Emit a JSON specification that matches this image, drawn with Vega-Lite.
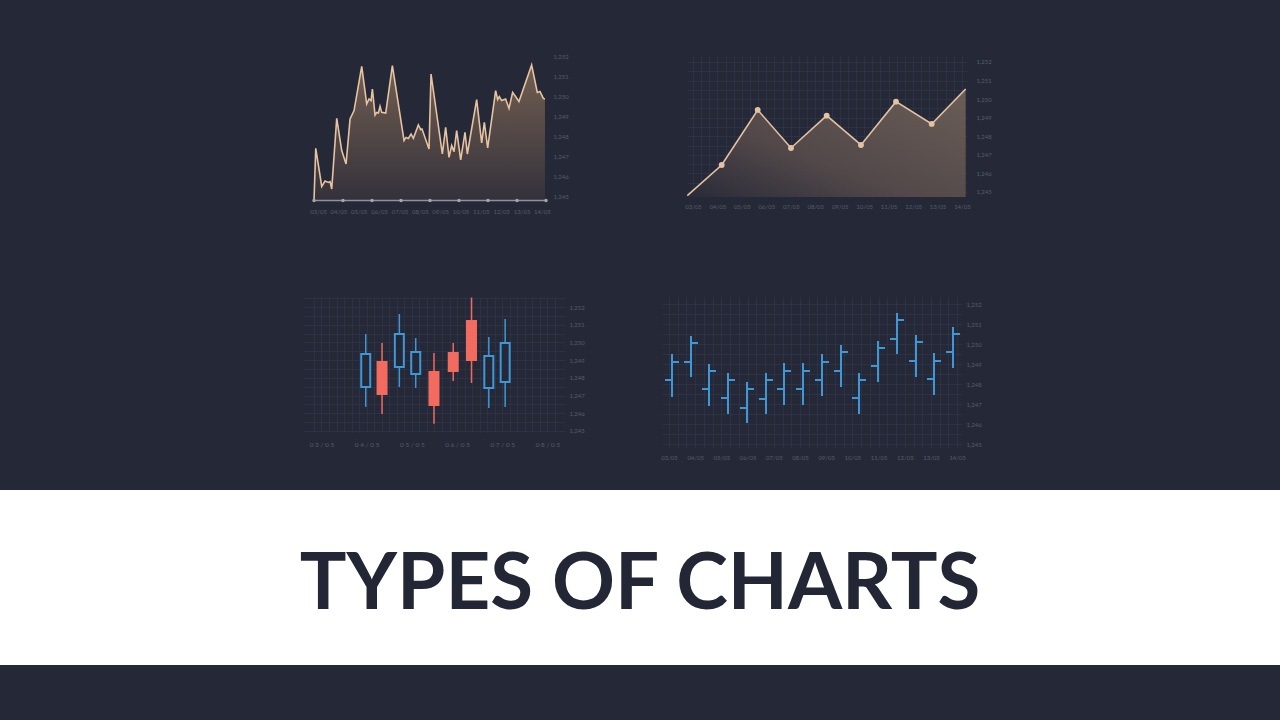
{
  "$schema": "https://vega.github.io/schema/vega-lite/v6.json",
  "background": "#252937",
  "padding": 0,
  "spacing": 0,
  "datasets": {
    "p1": [
      {"d": -0.2, "v": 1.24477}, {"d": -0.114, "v": 1.24738}, {"d": 0.18, "v": 1.24548}, {"d": 0.344, "v": 1.24575}, {"d": 0.507, "v": 1.24568}, {"d": 0.589, "v": 1.24572}, {"d": 0.671, "v": 1.24535}, {"d": 0.917, "v": 1.24888}, {"d": 1.162, "v": 1.24727}, {"d": 1.375, "v": 1.2466}, {"d": 1.572, "v": 1.24885}, {"d": 1.768, "v": 1.24927}, {"d": 2.145, "v": 1.25148}, {"d": 2.39, "v": 1.2496}, {"d": 2.505, "v": 1.24985}, {"d": 2.603, "v": 1.24977}, {"d": 2.669, "v": 1.25035}, {"d": 2.8, "v": 1.24905}, {"d": 2.881, "v": 1.24918}, {"d": 2.963, "v": 1.24915}, {"d": 3.045, "v": 1.24948}, {"d": 3.127, "v": 1.24918}, {"d": 3.324, "v": 1.24915}, {"d": 3.651, "v": 1.25152}, {"d": 4.224, "v": 1.24777}, {"d": 4.322, "v": 1.24793}, {"d": 4.437, "v": 1.24788}, {"d": 4.568, "v": 1.2481}, {"d": 4.682, "v": 1.24788}, {"d": 4.928, "v": 1.24855}, {"d": 5.043, "v": 1.24832}, {"d": 5.108, "v": 1.24835}, {"d": 5.452, "v": 1.24735}, {"d": 5.55, "v": 1.2511}, {"d": 6.107, "v": 1.2471}, {"d": 6.27, "v": 1.24843}, {"d": 6.434, "v": 1.24693}, {"d": 6.565, "v": 1.24752}, {"d": 6.68, "v": 1.24722}, {"d": 6.811, "v": 1.24827}, {"d": 7.007, "v": 1.2468}, {"d": 7.22, "v": 1.24818}, {"d": 7.335, "v": 1.2471}, {"d": 7.793, "v": 1.24982}, {"d": 8.039, "v": 1.24765}, {"d": 8.17, "v": 1.24868}, {"d": 8.334, "v": 1.2474}, {"d": 8.726, "v": 1.25027}, {"d": 8.825, "v": 1.24982}, {"d": 8.906, "v": 1.24997}, {"d": 9.021, "v": 1.24977}, {"d": 9.217, "v": 1.24985}, {"d": 9.381, "v": 1.24938}, {"d": 9.561, "v": 1.25018}, {"d": 9.872, "v": 1.24973}, {"d": 10.494, "v": 1.25155}, {"d": 10.773, "v": 1.25018}, {"d": 10.904, "v": 1.25023}, {"d": 11.068, "v": 1.24988}, {"d": 11.149, "v": 1.24985}
    ],
    "p1base": [
      {"d": -0.2, "v": 1.24477}, {"d": 1.225, "v": 1.24477}, {"d": 2.65, "v": 1.24477}, {"d": 4.075, "v": 1.24477}, {"d": 5.5, "v": 1.24477}, {"d": 6.925, "v": 1.24477}, {"d": 8.35, "v": 1.24477}, {"d": 9.775, "v": 1.24477}, {"d": 11.2, "v": 1.24477}
    ],
    "p2": [
      {"d": -0.233, "v": 1.2448, "marker": false}, {"d": 1.174, "v": 1.246454, "marker": true}, {"d": 2.646, "v": 1.249416, "marker": true}, {"d": 4.008, "v": 1.247369, "marker": true}, {"d": 5.468, "v": 1.249109, "marker": true}, {"d": 6.871, "v": 1.247531, "marker": true}, {"d": 8.303, "v": 1.249863, "marker": true}, {"d": 9.763, "v": 1.248662, "marker": true}, {"d": 11.153, "v": 1.250547, "marker": false}
    ],
    "p3": [
      {"d": 0.979, "hi": 1.25048, "lo": 1.24636, "open": 1.24748, "close": 1.24935, "dir": "up"},
      {"d": 1.34, "hi": 1.24997, "lo": 1.24596, "open": 1.2489, "close": 1.24709, "dir": "down"},
      {"d": 1.723, "hi": 1.25161, "lo": 1.24748, "open": 1.24861, "close": 1.25048, "dir": "up"},
      {"d": 2.085, "hi": 1.25025, "lo": 1.24743, "open": 1.24822, "close": 1.24946, "dir": "up"},
      {"d": 2.489, "hi": 1.2494, "lo": 1.2454, "open": 1.24833, "close": 1.24647, "dir": "down"},
      {"d": 2.915, "hi": 1.24997, "lo": 1.24782, "open": 1.2494, "close": 1.24839, "dir": "down"},
      {"d": 3.319, "hi": 1.25254, "lo": 1.24771, "open": 1.25121, "close": 1.24901, "dir": "down"},
      {"d": 3.702, "hi": 1.25031, "lo": 1.2463, "open": 1.24743, "close": 1.24923, "dir": "up"},
      {"d": 4.064, "hi": 1.25132, "lo": 1.24636, "open": 1.24777, "close": 1.24997, "dir": "up"}
    ],
    "p4": [
      {"d": 0.115, "hi": 1.2495, "lo": 1.24735, "open": 1.2482, "close": 1.2491},
      {"d": 0.84, "hi": 1.2504, "lo": 1.24835, "open": 1.2491, "close": 1.25005},
      {"d": 1.527, "hi": 1.249, "lo": 1.2469, "open": 1.24775, "close": 1.24865},
      {"d": 2.252, "hi": 1.24855, "lo": 1.2465, "open": 1.2473, "close": 1.2482},
      {"d": 2.977, "hi": 1.2481, "lo": 1.24605, "open": 1.2468, "close": 1.24775},
      {"d": 3.702, "hi": 1.24855, "lo": 1.2465, "open": 1.24725, "close": 1.2482},
      {"d": 4.389, "hi": 1.24905, "lo": 1.24695, "open": 1.24775, "close": 1.24865},
      {"d": 5.115, "hi": 1.24905, "lo": 1.24695, "open": 1.24775, "close": 1.24865},
      {"d": 5.84, "hi": 1.2495, "lo": 1.2474, "open": 1.2482, "close": 1.2491},
      {"d": 6.565, "hi": 1.24995, "lo": 1.24785, "open": 1.24865, "close": 1.2496},
      {"d": 7.252, "hi": 1.24855, "lo": 1.2465, "open": 1.2473, "close": 1.2482},
      {"d": 7.977, "hi": 1.25015, "lo": 1.2481, "open": 1.2489, "close": 1.2498},
      {"d": 8.702, "hi": 1.25155, "lo": 1.2495, "open": 1.25025, "close": 1.2512},
      {"d": 9.427, "hi": 1.25045, "lo": 1.24835, "open": 1.24915, "close": 1.2501},
      {"d": 10.115, "hi": 1.24955, "lo": 1.24745, "open": 1.24825, "close": 1.24915},
      {"d": 10.84, "hi": 1.25085, "lo": 1.2488, "open": 1.2496, "close": 1.2505}
    ],
    "title": [{"text": "TYPES OF CHARTS"}]
  },
  "vconcat": [
    {"width": 1, "height": 53, "data": {"values": []}, "mark": "point"},
    {
      "spacing": 0,
      "bounds": "flush",
      "hconcat": [
        {"width": 314, "height": 239, "data": {"values": []}, "mark": "point"},
        {
          "width": 232,
          "height": 145,
          "encoding": {
            "x": {"field": "d", "type": "quantitative", "scale": {"domain": [-0.2, 11.2], "nice": false, "zero": false},
              "axis": {"title": null, "orient": "bottom", "values": [0,0.5,1,1.5,2,2.5,3,3.5,4,4.5,5,5.5,6,6.5,7,7.5,8,8.5,9,9.5,10,10.5,11], "labelExpr": "abs(datum.value - round(datum.value)) < 0.01 ? ['03/05','04/05','05/05','06/05','07/05','08/05','09/05','10/05','11/05','12/05','13/05','14/05'][round(datum.value)] : ''", "grid": false, "labelPadding": 7, "labelOverlap": false}},
            "y": {"field": "v", "type": "quantitative", "scale": {"domain": [1.24475, 1.252], "nice": false, "zero": false},
              "axis": {"title": null, "orient": "right", "values": [1.245,1.2455,1.246,1.2465,1.247,1.2475,1.248,1.2485,1.249,1.2495,1.25,1.2505,1.251,1.2515,1.252], "labelExpr": "abs(datum.value*1000 - round(datum.value*1000)) < 0.01 ? replace(format(datum.value, '.3f'), '.', ',') : ''", "grid": false, "labelPadding": 7, "labelOverlap": false}}
          },
          "layer": [
            {
              "data": {"name": "p1"},
              "mark": {"type": "area", "fill": {"gradient": "linear", "x1": 0, "x2": 0, "y1": 0, "y2": 1, "stops": [{"offset": 0, "color": "#725f51"}, {"offset": 1, "color": "#34313b"}]}},
              "encoding": {"y2": {"datum": 1.24475}}
            },
            {
              "data": {"name": "p1"},
              "mark": {"type": "line", "color": "#e6c3a1", "strokeWidth": 1.6}
            },
            {
              "data": {"name": "p1base"},
              "mark": {"type": "line", "color": "#8f919c", "strokeWidth": 1.5, "point": {"filled": true, "size": 12, "color": "#a4a6b0"}}
            }
          ]
        },
        {"width": 141, "height": 1, "data": {"values": []}, "mark": "point"},
        {
          "width": 280,
          "height": 141,
          "data": {"name": "p2"},
          "encoding": {
            "x": {"field": "d", "type": "quantitative", "scale": {"domain": [-0.245, 11.207], "nice": false, "zero": false},
              "axis": {"title": null, "orient": "bottom", "values": [0,0.3333,0.6667,1,1.3333,1.6667,2,2.3333,2.6667,3,3.3333,3.6667,4,4.3333,4.6667,5,5.3333,5.6667,6,6.3333,6.6667,7,7.3333,7.6667,8,8.3333,8.6667,9,9.3333,9.6667,10,10.3333,10.6667,11], "labelExpr": "abs(datum.value - round(datum.value)) < 0.01 ? ['03/05','04/05','05/05','06/05','07/05','08/05','09/05','10/05','11/05','12/05','13/05','14/05'][round(datum.value)] : ''", "grid": true, "labelPadding": 6, "labelOverlap": false}},
            "y": {"field": "v", "type": "quantitative", "scale": {"domain": [1.24473, 1.25232], "nice": false, "zero": false},
              "axis": {"title": null, "orient": "right", "values": [1.245,1.2455,1.246,1.2465,1.247,1.2475,1.248,1.2485,1.249,1.2495,1.25,1.2505,1.251,1.2515,1.252], "labelExpr": "abs(datum.value*1000 - round(datum.value*1000)) < 0.01 ? replace(format(datum.value, '.3f'), '.', ',') : ''", "grid": true, "labelPadding": 9, "labelOverlap": false}}
          },
          "layer": [
            {"mark": {"type": "area", "opacity": 0.92, "fill": {"gradient": "linear", "x1": 1, "x2": 0, "y1": 0, "y2": 1, "stops": [{"offset": 0, "color": "#706259"}, {"offset": 0.6, "color": "#564b4b"}, {"offset": 1, "color": "#2a2b38"}]}},
              "encoding": {"y2": {"datum": 1.24473}}},
            {"mark": {"type": "line", "color": "#e2c2a3", "strokeWidth": 1.6}},
            {"transform": [{"filter": "datum.marker"}], "mark": {"type": "point", "filled": true, "opacity": 1, "size": 34, "color": "#e2c2a3"}}
          ]
        }
      ]
    },
    {
      "spacing": 0,
      "bounds": "flush",
      "hconcat": [
        {"width": 303, "height": 193, "data": {"values": []}, "mark": "point"},
        {
          "width": 262,
          "height": 135,
          "data": {"name": "p3"},
          "encoding": {
            "x": {"field": "d", "type": "quantitative", "scale": {"domain": [-0.298, 5.277], "nice": false, "zero": false},
              "axis": {"title": null, "orient": "bottom", "values": [-0.1667,0,0.1667,0.3333,0.5,0.6667,0.8333,1,1.1667,1.3333,1.5,1.6667,1.8333,2,2.1667,2.3333,2.5,2.6667,2.8333,3,3.1667,3.3333,3.5,3.6667,3.8333,4,4.1667,4.3333,4.5,4.6667,4.8333,5,5.1667], "labelExpr": "abs(datum.value - round(datum.value)) < 0.01 ? ['0 3 / 0 5','0 4 / 0 5','0 5 / 0 5','0 6 / 0 5','0 7 / 0 5','0 8 / 0 5'][round(datum.value)] : ''", "grid": true, "labelPadding": 9, "labelFontSize": 6.5, "labelOverlap": false}},
            "y": {"type": "quantitative", "scale": {"domain": [1.24494, 1.25257], "nice": false, "zero": false},
              "axis": {"title": null, "orient": "right", "values": [1.245,1.2455,1.246,1.2465,1.247,1.2475,1.248,1.2485,1.249,1.2495,1.25,1.2505,1.251,1.2515,1.252,1.2525], "labelExpr": "abs(datum.value*1000 - round(datum.value*1000)) < 0.01 ? replace(format(datum.value, '.3f'), '.', ',') : ''", "grid": true, "labelPadding": 4, "labelOverlap": false}}
          },
          "layer": [
            {"mark": {"type": "rule", "strokeWidth": 1.5},
              "encoding": {"y": {"field": "hi", "type": "quantitative"}, "y2": {"field": "lo"},
                "color": {"field": "dir", "type": "nominal", "scale": {"domain": ["up", "down"], "range": ["#3f97d6", "#ef6a5e"]}, "legend": null}}},
            {"mark": {"type": "bar", "width": 9, "strokeWidth": 2, "opacity": 1},
              "encoding": {"y": {"field": "open", "type": "quantitative"}, "y2": {"field": "close"},
                "fill": {"field": "dir", "type": "nominal", "scale": {"domain": ["up", "down"], "range": ["#252937", "#f36b5f"]}, "legend": null},
                "stroke": {"field": "dir", "type": "nominal", "scale": {"domain": ["up", "down"], "range": ["#3f97d6", "#f36b5f"]}, "legend": null}}}
          ]
        },
        {"width": 97, "height": 1, "data": {"values": []}, "mark": "point"},
        {
          "width": 300,
          "height": 151,
          "data": {"name": "p4"},
          "encoding": {
            "x": {"field": "d", "type": "quantitative", "scale": {"domain": [-0.267, 11.183], "nice": false, "zero": false},
              "axis": {"title": null, "orient": "bottom", "values": [0,0.3333,0.6667,1,1.3333,1.6667,2,2.3333,2.6667,3,3.3333,3.6667,4,4.3333,4.6667,5,5.3333,5.6667,6,6.3333,6.6667,7,7.3333,7.6667,8,8.3333,8.6667,9,9.3333,9.6667,10,10.3333,10.6667,11], "labelExpr": "abs(datum.value - round(datum.value)) < 0.01 ? ['03/05','04/05','05/05','06/05','07/05','08/05','09/05','10/05','11/05','12/05','13/05','14/05'][round(datum.value)] : ''", "grid": true, "labelPadding": 6, "labelOverlap": false}},
            "y": {"type": "quantitative", "scale": {"domain": [1.2448, 1.25235], "nice": false, "zero": false},
              "axis": {"title": null, "orient": "right", "values": [1.245,1.2455,1.246,1.2465,1.247,1.2475,1.248,1.2485,1.249,1.2495,1.25,1.2505,1.251,1.2515,1.252], "labelExpr": "abs(datum.value*1000 - round(datum.value*1000)) < 0.01 ? replace(format(datum.value, '.3f'), '.', ',') : ''", "grid": true, "labelPadding": 4, "labelOverlap": false}}
          },
          "layer": [
            {"mark": {"type": "rule", "strokeWidth": 2, "color": "#3f97d6"},
              "encoding": {"y": {"field": "hi", "type": "quantitative"}, "y2": {"field": "lo"}}},
            {"mark": {"type": "tick", "orient": "horizontal", "size": 7, "thickness": 2, "xOffset": -3.5, "opacity": 1, "color": "#3f97d6"},
              "encoding": {"y": {"field": "open", "type": "quantitative"}}},
            {"mark": {"type": "tick", "orient": "horizontal", "size": 7, "thickness": 2, "xOffset": 3.5, "opacity": 1, "color": "#3f97d6"},
              "encoding": {"y": {"field": "close", "type": "quantitative"}}}
          ]
        }
      ]
    },
    {
      "width": 1280,
      "height": 175,
      "view": {"fill": "#ffffff", "stroke": null},
      "data": {"name": "title"},
      "mark": {"type": "text", "font": "Lato", "fontWeight": "bold", "fontSize": 78, "color": "#232634", "align": "center", "baseline": "alphabetic", "dy": 31.5},
      "encoding": {"text": {"field": "text", "type": "nominal"}}
    },
    {"width": 1280, "height": 55, "data": {"values": []}, "mark": "point"}
  ],
  "config": {
    "view": {"stroke": null},
    "concat": {"spacing": 0},
    "axis": {"domain": false, "ticks": false, "labelColor": "#565b6c", "labelFontSize": 6, "labelFont": "Lato", "gridColor": "#30354a", "gridWidth": 1, "gridOpacity": 0.65, "labelOverlap": false, "labelFlush": false}
  }
}
